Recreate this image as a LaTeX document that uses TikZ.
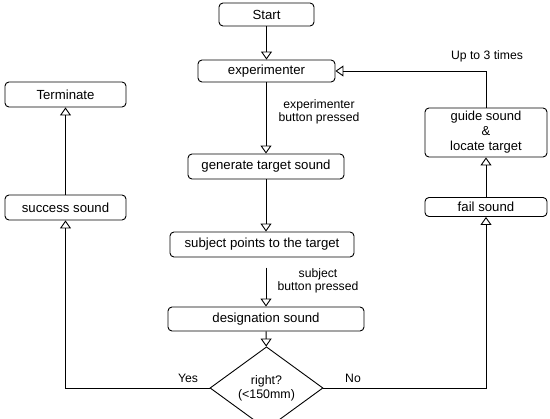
\documentclass[tikz,border=0pt]{standalone}
\usepackage{fontspec}
\setmainfont{Liberation Sans}
\usetikzlibrary{arrows.meta,shapes.geometric}
\begin{document}
\begin{tikzpicture}[x=1pt,y=-1pt,
  font=\fontsize{13.2}{15}\selectfont,
  box/.style={draw,line width=0.9pt,rounded corners=4pt,inner sep=0pt,align=center},
  arr/.style={draw,line width=0.9pt,-{Triangle[open,width=11pt,length=8pt]}},
  lbl/.style={inner sep=0pt,align=center,font=\fontsize{12.2}{12.5}\selectfont}]
\useasboundingbox (0,0) rectangle (550,419);
\node[box,minimum width=95pt,minimum height=23pt] (start) at (266.5,14.5) {Start};
\node[box,minimum width=137pt,minimum height=22pt] (exper) at (266.5,71) {experimenter};
\node[box,minimum width=156pt,minimum height=25pt] (gen) at (266,166.5) {generate target sound};
\node[box,minimum width=184pt,minimum height=25pt] (subj) at (262,244.5) {subject points to the target};
\node[box,minimum width=196pt,minimum height=24pt] (desig) at (266,319) {designation sound};
\node[draw,line width=0.9pt,diamond,inner sep=0pt,minimum width=113pt,minimum height=50pt,align=center,font=\fontsize{12.4}{14}\selectfont] (dec) at (266.5,388) {right?\\(<150mm)};
\node[box,minimum width=121pt,minimum height=25pt] (term) at (65.5,94.5) {Terminate};
\node[box,minimum width=121pt,minimum height=25pt] (succ) at (65.5,207.5) {success sound};
\node[box,minimum width=122pt,minimum height=49pt,font=\fontsize{13}{15}\selectfont] (guide) at (486,132.5) {guide sound\\\&\\locate target};
\node[box,minimum width=122pt,minimum height=19pt] (fail) at (486,207) {fail sound};
\node[lbl] (l1) at (319,112) {experimenter\\button pressed};
\node[lbl] (l2) at (318,281) {subject\\button pressed};
\node[lbl] (l3) at (487,56) {Up to 3 times};
\node[lbl] (yes) at (188,378) {Yes};
\node[lbl] (no) at (353,378) {No};
\draw[arr] (start) -- (exper);
\draw[arr] (exper.south -| gen.north) -- (gen);
\draw[arr] (gen.south) -- (gen.south |- subj.north);
\draw[arr] (desig.north -| gen.south) ++(0,-39) -- (desig.north -| gen.south);
\draw[arr] (desig) -- (dec);
\draw[arr] (dec.west) -| (succ.south);
\draw[arr] (succ) -- (term);
\draw[arr] (dec.east) -| (fail.south);
\draw[arr] (fail) -- (guide);
\draw[arr] (guide.north) |- (exper.east);
\end{tikzpicture}
\end{document}
